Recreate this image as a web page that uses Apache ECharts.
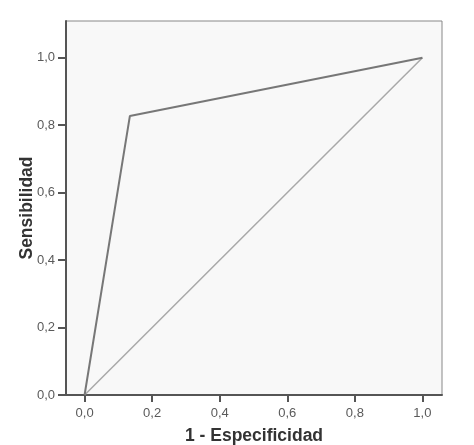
<!DOCTYPE html>
<html>
<head>
<meta charset="utf-8">
<script src="https://cdn.jsdelivr.net/npm/echarts@6/dist/echarts.min.js"></script>
<style>
  html, body { margin: 0; padding: 0; background: #fff; }
  #chart { width: 474px; height: 445px; }
</style>
</head>
<body>
<div id="chart"></div>
<script>
  // curva ROC (1 - especificidad, sensibilidad)
  var rocX = [0.0, 0.134, 1.0];
  var rocY = [0.0, 0.827, 1.0];
  // linea de referencia
  var refX = [0.0, 1.0];
  var refY = [0.0, 1.0];
  var tickValues = [0, 0.2, 0.4, 0.6, 0.8, 1.0];

  function pairs(xs, ys) {
    return xs.map(function (x, i) { return [x, ys[i]]; });
  }
  function fmt(v) {
    return v.toFixed(1).replace('.', ',');
  }

  var chart = echarts.init(document.getElementById('chart'));
  var labelStyle = { color: '#5a5a5a', fontSize: 13, fontFamily: 'Liberation Sans, Arial, sans-serif' };
  var nameStyle = { color: '#333', fontSize: 17.5, fontWeight: 'bold', fontFamily: 'Liberation Sans, Arial, sans-serif' };

  var option = {
    animation: false,
    grid: {
      left: 66, right: 32, top: 21, bottom: 50,
      outerBoundsMode: 'none',
      show: true,
      backgroundColor: '#f8f8f8',
      borderColor: '#888',
      borderWidth: 1
    },
    xAxis: {
      type: 'value',
      min: -0.055, max: 1.058,
      name: '1 - Especificidad',
      nameLocation: 'middle',
      nameGap: 32,
      nameMoveOverlap: false,
      nameTextStyle: nameStyle,
      splitLine: { show: false },
      axisLine: { onZero: false, lineStyle: { color: '#555', width: 2 } },
      axisTick: { show: true, length: 7, lineStyle: { color: '#555', width: 2 }, customValues: tickValues },
      axisLabel: Object.assign({ margin: 12, customValues: tickValues, formatter: fmt }, labelStyle)
    },
    yAxis: {
      type: 'value',
      min: 0, max: 1.109,
      name: 'Sensibilidad',
      nameLocation: 'middle',
      nameGap: 30,
      nameMoveOverlap: false,
      nameTextStyle: nameStyle,
      splitLine: { show: false },
      axisLine: { onZero: false, lineStyle: { color: '#555', width: 2 } },
      axisTick: { show: true, length: 8, lineStyle: { color: '#555', width: 2 }, customValues: tickValues },
      axisLabel: Object.assign({ margin: 11, customValues: tickValues, formatter: fmt }, labelStyle)
    },
    series: [
      {
        type: 'line',
        data: pairs(refX, refY),
        showSymbol: false,
        lineStyle: { color: '#a8a8a8', width: 1.5 }
      },
      {
        type: 'line',
        data: pairs(rocX, rocY),
        showSymbol: false,
        lineStyle: { color: '#777', width: 2 }
      }
    ]
  };
  chart.setOption(option);
</script>
</body>
</html>
